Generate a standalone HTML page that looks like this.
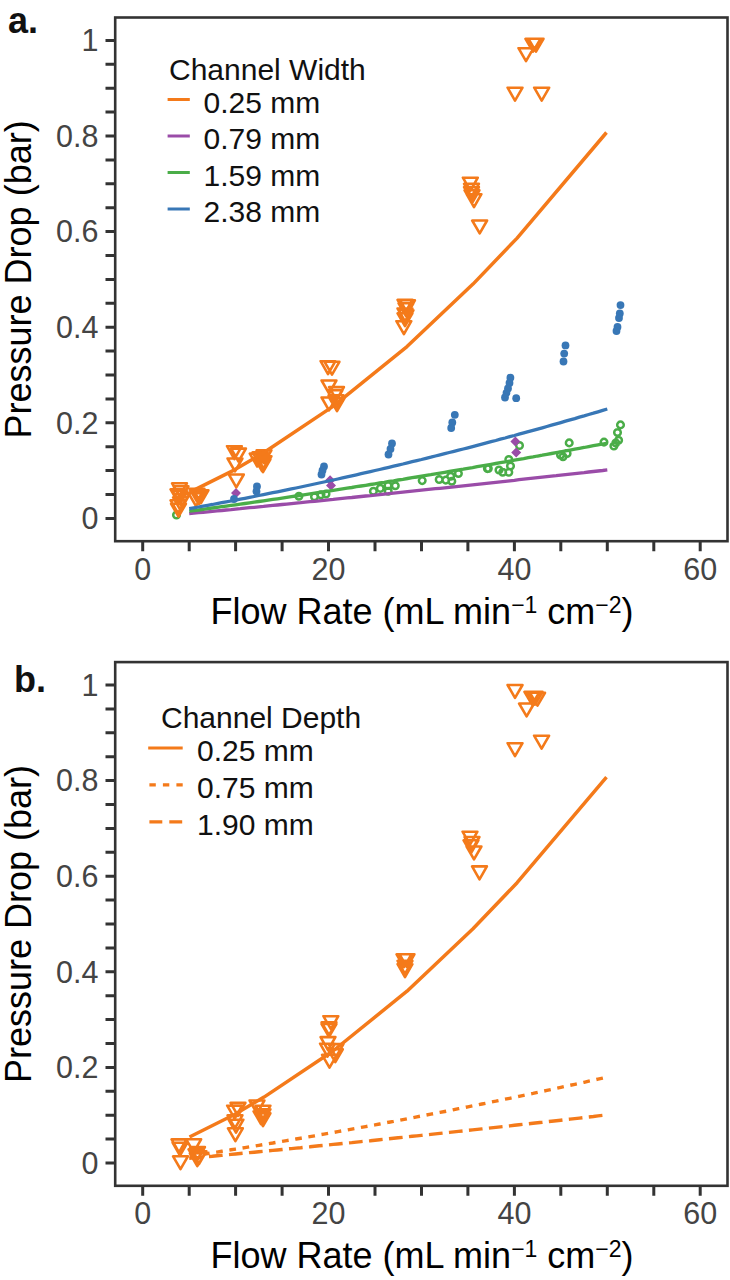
<!DOCTYPE html>
<html><head><meta charset="utf-8"><style>
html,body{margin:0;padding:0;background:#fff;width:730px;height:1280px;overflow:hidden}
svg{display:block;font-family:"Liberation Sans",sans-serif}
</style></head><body>
<svg width="730" height="1280" viewBox="0 0 730 1280">
<rect x="115.2" y="17.5" width="612.3" height="523.7" fill="none" stroke="#333333" stroke-width="2.6"/>
<path d="M105.5 518.4H115.2 M105.5 494.5H115.2 M105.5 470.6H115.2 M105.5 446.7H115.2 M105.5 422.8H115.2 M105.5 398.9H115.2 M105.5 375.0H115.2 M105.5 351.1H115.2 M105.5 327.2H115.2 M105.5 303.3H115.2 M105.5 279.4H115.2 M105.5 255.5H115.2 M105.5 231.6H115.2 M105.5 207.7H115.2 M105.5 183.8H115.2 M105.5 159.9H115.2 M105.5 136.0H115.2 M105.5 112.1H115.2 M105.5 88.2H115.2 M105.5 64.3H115.2 M105.5 40.4H115.2 M142.7 541.2V551.2 M189.2 541.2V551.2 M235.6 541.2V551.2 M282.1 541.2V551.2 M328.5 541.2V551.2 M375.0 541.2V551.2 M421.5 541.2V551.2 M467.9 541.2V551.2 M514.4 541.2V551.2 M560.8 541.2V551.2 M607.3 541.2V551.2 M653.8 541.2V551.2 M700.2 541.2V551.2" stroke="#333333" stroke-width="3" fill="none"/>
<text x="98.5" y="529.2" text-anchor="end" font-size="30.5" fill="#444444">0</text>
<text x="98.5" y="433.6" text-anchor="end" font-size="30.5" fill="#444444">0.2</text>
<text x="98.5" y="338.0" text-anchor="end" font-size="30.5" fill="#444444">0.4</text>
<text x="98.5" y="242.4" text-anchor="end" font-size="30.5" fill="#444444">0.6</text>
<text x="98.5" y="146.8" text-anchor="end" font-size="30.5" fill="#444444">0.8</text>
<text x="98.5" y="51.2" text-anchor="end" font-size="30.5" fill="#444444">1</text>
<text x="142.7" y="579.5" text-anchor="middle" font-size="30.5" fill="#444444">0</text>
<text x="328.5" y="579.5" text-anchor="middle" font-size="30.5" fill="#444444">20</text>
<text x="514.4" y="579.5" text-anchor="middle" font-size="30.5" fill="#444444">40</text>
<text x="700.2" y="579.5" text-anchor="middle" font-size="30.5" fill="#444444">60</text>
<text transform="translate(31 279.4) rotate(-90)" text-anchor="middle" font-size="36" fill="#000">Pressure Drop (bar)</text>
<text x="422" y="623.7" text-anchor="middle" font-size="36" fill="#000">Flow Rate (mL min<tspan font-size="23" dy="-11">−1</tspan><tspan dy="11"> cm</tspan><tspan font-size="23" dy="-11">−2</tspan><tspan dy="11">)</tspan></text>
<rect x="115.2" y="662.1" width="612.3" height="523.7" fill="none" stroke="#333333" stroke-width="2.6"/>
<path d="M105.5 1163.0H115.2 M105.5 1139.1H115.2 M105.5 1115.2H115.2 M105.5 1091.3H115.2 M105.5 1067.4H115.2 M105.5 1043.5H115.2 M105.5 1019.6H115.2 M105.5 995.7H115.2 M105.5 971.8H115.2 M105.5 947.9H115.2 M105.5 924.0H115.2 M105.5 900.1H115.2 M105.5 876.2H115.2 M105.5 852.3H115.2 M105.5 828.4H115.2 M105.5 804.5H115.2 M105.5 780.6H115.2 M105.5 756.7H115.2 M105.5 732.8H115.2 M105.5 708.9H115.2 M105.5 685.0H115.2 M142.7 1185.8000000000002V1195.8000000000002 M189.2 1185.8000000000002V1195.8000000000002 M235.6 1185.8000000000002V1195.8000000000002 M282.1 1185.8000000000002V1195.8000000000002 M328.5 1185.8000000000002V1195.8000000000002 M375.0 1185.8000000000002V1195.8000000000002 M421.5 1185.8000000000002V1195.8000000000002 M467.9 1185.8000000000002V1195.8000000000002 M514.4 1185.8000000000002V1195.8000000000002 M560.8 1185.8000000000002V1195.8000000000002 M607.3 1185.8000000000002V1195.8000000000002 M653.8 1185.8000000000002V1195.8000000000002 M700.2 1185.8000000000002V1195.8000000000002" stroke="#333333" stroke-width="3" fill="none"/>
<text x="98.5" y="1173.8" text-anchor="end" font-size="30.5" fill="#444444">0</text>
<text x="98.5" y="1078.2" text-anchor="end" font-size="30.5" fill="#444444">0.2</text>
<text x="98.5" y="982.6" text-anchor="end" font-size="30.5" fill="#444444">0.4</text>
<text x="98.5" y="887.0" text-anchor="end" font-size="30.5" fill="#444444">0.6</text>
<text x="98.5" y="791.4" text-anchor="end" font-size="30.5" fill="#444444">0.8</text>
<text x="98.5" y="695.8" text-anchor="end" font-size="30.5" fill="#444444">1</text>
<text x="142.7" y="1224.1" text-anchor="middle" font-size="30.5" fill="#444444">0</text>
<text x="328.5" y="1224.1" text-anchor="middle" font-size="30.5" fill="#444444">20</text>
<text x="514.4" y="1224.1" text-anchor="middle" font-size="30.5" fill="#444444">40</text>
<text x="700.2" y="1224.1" text-anchor="middle" font-size="30.5" fill="#444444">60</text>
<text transform="translate(31 924.0) rotate(-90)" text-anchor="middle" font-size="36" fill="#000">Pressure Drop (bar)</text>
<text x="422" y="1268.3" text-anchor="middle" font-size="36" fill="#000">Flow Rate (mL min<tspan font-size="23" dy="-11">−1</tspan><tspan dy="11"> cm</tspan><tspan font-size="23" dy="-11">−2</tspan><tspan dy="11">)</tspan></text>
<path d="M173.2 515.0a3.3 3.3 0 1 0 6.6 0a3.3 3.3 0 1 0 -6.6 0ZM295.6 496.3a3.3 3.3 0 1 0 6.6 0a3.3 3.3 0 1 0 -6.6 0ZM311.2 496.7a3.3 3.3 0 1 0 6.6 0a3.3 3.3 0 1 0 -6.6 0ZM317.7 494.7a3.3 3.3 0 1 0 6.6 0a3.3 3.3 0 1 0 -6.6 0ZM322.7 494.0a3.3 3.3 0 1 0 6.6 0a3.3 3.3 0 1 0 -6.6 0ZM370.1 491.2a3.3 3.3 0 1 0 6.6 0a3.3 3.3 0 1 0 -6.6 0ZM377.0 488.4a3.3 3.3 0 1 0 6.6 0a3.3 3.3 0 1 0 -6.6 0ZM384.7 485.5a3.3 3.3 0 1 0 6.6 0a3.3 3.3 0 1 0 -6.6 0ZM384.9 491.2a3.3 3.3 0 1 0 6.6 0a3.3 3.3 0 1 0 -6.6 0ZM392.0 485.8a3.3 3.3 0 1 0 6.6 0a3.3 3.3 0 1 0 -6.6 0ZM418.9 480.6a3.3 3.3 0 1 0 6.6 0a3.3 3.3 0 1 0 -6.6 0ZM435.9 479.5a3.3 3.3 0 1 0 6.6 0a3.3 3.3 0 1 0 -6.6 0ZM442.5 480.1a3.3 3.3 0 1 0 6.6 0a3.3 3.3 0 1 0 -6.6 0ZM447.4 476.2a3.3 3.3 0 1 0 6.6 0a3.3 3.3 0 1 0 -6.6 0ZM448.5 481.2a3.3 3.3 0 1 0 6.6 0a3.3 3.3 0 1 0 -6.6 0ZM455.1 473.5a3.3 3.3 0 1 0 6.6 0a3.3 3.3 0 1 0 -6.6 0ZM484.1 468.6a3.3 3.3 0 1 0 6.6 0a3.3 3.3 0 1 0 -6.6 0ZM495.7 470.0a3.3 3.3 0 1 0 6.6 0a3.3 3.3 0 1 0 -6.6 0ZM516.2 445.5a3.3 3.3 0 1 0 6.6 0a3.3 3.3 0 1 0 -6.6 0ZM505.5 459.5a3.3 3.3 0 1 0 6.6 0a3.3 3.3 0 1 0 -6.6 0ZM507.2 466.0a3.3 3.3 0 1 0 6.6 0a3.3 3.3 0 1 0 -6.6 0ZM499.4 472.2a3.3 3.3 0 1 0 6.6 0a3.3 3.3 0 1 0 -6.6 0ZM505.5 472.2a3.3 3.3 0 1 0 6.6 0a3.3 3.3 0 1 0 -6.6 0ZM485.0 468.5a3.3 3.3 0 1 0 6.6 0a3.3 3.3 0 1 0 -6.6 0ZM565.9 442.9a3.3 3.3 0 1 0 6.6 0a3.3 3.3 0 1 0 -6.6 0ZM559.7 456.8a3.3 3.3 0 1 0 6.6 0a3.3 3.3 0 1 0 -6.6 0ZM563.8 453.5a3.3 3.3 0 1 0 6.6 0a3.3 3.3 0 1 0 -6.6 0ZM557.2 455.0a3.3 3.3 0 1 0 6.6 0a3.3 3.3 0 1 0 -6.6 0ZM617.2 424.9a3.3 3.3 0 1 0 6.6 0a3.3 3.3 0 1 0 -6.6 0ZM614.2 432.5a3.3 3.3 0 1 0 6.6 0a3.3 3.3 0 1 0 -6.6 0ZM615.3 440.2a3.3 3.3 0 1 0 6.6 0a3.3 3.3 0 1 0 -6.6 0ZM612.5 443.0a3.3 3.3 0 1 0 6.6 0a3.3 3.3 0 1 0 -6.6 0ZM610.6 446.0a3.3 3.3 0 1 0 6.6 0a3.3 3.3 0 1 0 -6.6 0ZM600.7 442.1a3.3 3.3 0 1 0 6.6 0a3.3 3.3 0 1 0 -6.6 0Z" fill="none" stroke="#4aad48" stroke-width="2.5"/>
<path d="M236.0 488.0L241.0 493.0L236.0 498.0L231.0 493.0ZM330.1 475.3L335.1 480.3L330.1 485.3L325.1 480.3ZM331.0 480.6L336.0 485.6L331.0 490.6L326.0 485.6ZM515.4 436.4L520.4 441.4L515.4 446.4L510.4 441.4ZM516.2 447.5L521.2 452.5L516.2 457.5L511.2 452.5Z" fill="#9a4ca8"/>
<g fill="#3877b6"><circle cx="234" cy="499" r="3.9"/><circle cx="257" cy="486.4" r="3.9"/><circle cx="256.5" cy="491.4" r="3.9"/><circle cx="324" cy="466.5" r="3.9"/><circle cx="322.5" cy="470.5" r="3.9"/><circle cx="321.5" cy="474.5" r="3.9"/><circle cx="392" cy="443.5" r="3.9"/><circle cx="390.5" cy="449" r="3.9"/><circle cx="388.5" cy="454.5" r="3.9"/><circle cx="454.8" cy="414.8" r="3.9"/><circle cx="452.3" cy="422.5" r="3.9"/><circle cx="451.2" cy="428" r="3.9"/><circle cx="510.4" cy="377.7" r="3.9"/><circle cx="509.5" cy="383" r="3.9"/><circle cx="508" cy="388.5" r="3.9"/><circle cx="506.5" cy="393" r="3.9"/><circle cx="505" cy="397.5" r="3.9"/><circle cx="516.2" cy="398.2" r="3.9"/><circle cx="565.5" cy="345.4" r="3.9"/><circle cx="564.2" cy="353.6" r="3.9"/><circle cx="563.5" cy="361.5" r="3.9"/><circle cx="620.5" cy="305.1" r="3.9"/><circle cx="619.8" cy="313.5" r="3.9"/><circle cx="619" cy="318" r="3.9"/><circle cx="617.5" cy="327" r="3.9"/><circle cx="616.5" cy="331" r="3.9"/></g>
<path d="M172.1 483.3H186.9L179.5 496.2ZM173.6 486.3H188.4L181.0 499.2ZM170.6 489.3H185.4L178.0 502.2ZM172.6 491.3H187.4L180.0 504.2ZM174.6 494.3H189.4L182.0 507.2ZM173.1 497.3H187.9L180.5 510.2ZM170.6 500.3H185.4L178.0 513.2ZM171.1 503.8H185.9L178.5 516.7ZM189.6 488.8H204.4L197.0 501.7ZM191.6 491.3H206.4L199.0 504.2ZM188.6 493.3H203.4L196.0 506.2ZM193.6 490.3H208.4L201.0 503.2ZM227.0 446.2H241.8L234.4 459.1ZM231.1 448.6H245.9L238.5 461.5ZM227.6 458.5H242.4L235.0 471.4ZM228.9 474.5H243.8L236.3 487.4ZM256.6 450.3H271.4L264.0 463.2ZM249.8 453.6H264.6L257.2 466.5ZM252.6 452.3H267.4L260.0 465.2ZM256.6 456.3H271.4L264.0 469.2ZM254.6 458.3H269.4L262.0 471.2ZM255.6 459.3H270.4L263.0 472.2ZM320.6 361.2H335.4L328.0 374.1ZM324.6 361.8H339.4L332.0 374.7ZM321.6 380.5H336.4L329.0 393.4ZM329.1 387.1H343.9L336.5 400.0ZM327.6 390.3H342.4L335.0 403.2ZM321.6 397.5H336.4L329.0 410.4ZM329.6 398.3H344.4L337.0 411.2ZM328.6 395.3H343.4L336.0 408.2ZM397.6 299.9H412.4L405.0 312.8ZM400.1 300.3H414.9L407.5 313.2ZM398.6 303.3H413.4L406.0 316.2ZM397.6 308.5H412.4L405.0 321.4ZM398.6 310.3H413.4L406.0 323.2ZM397.6 313.3H412.4L405.0 326.2ZM396.4 321.2H411.3L403.9 334.1ZM462.9 177.7H477.8L470.4 190.6ZM464.1 183.8H478.9L471.5 196.7ZM464.1 187.1H478.9L471.5 200.0ZM464.6 190.3H479.4L472.0 203.2ZM466.6 194.2H481.4L474.0 207.1ZM472.2 220.5H487.1L479.7 233.4ZM518.5 48.2H533.5L526.0 61.1ZM525.5 38.8H540.5L533.0 51.7ZM528.5 38.8H543.5L536.0 51.7ZM507.6 87.7H522.5L515.0 100.6ZM534.2 87.7H549.2L541.7 100.6Z" fill="none" stroke="#f47a1a" stroke-width="2.6" stroke-linejoin="round"/>
<path d="M189.2,513.6 L193.8,513.2 L198.5,512.7 L203.1,512.3 L207.7,511.8 L212.4,511.4 L217.0,510.9 L221.7,510.5 L226.3,510.0 L231.0,509.6 L235.6,509.1 L240.3,508.7 L244.9,508.2 L249.6,507.7 L254.2,507.3 L258.8,506.8 L263.5,506.4 L268.1,505.9 L272.8,505.4 L277.4,505.0 L282.1,504.5 L286.7,504.1 L291.4,503.6 L296.0,503.1 L300.7,502.7 L305.3,502.2 L310.0,501.7 L314.6,501.3 L319.2,500.8 L323.9,500.3 L328.5,499.8 L333.2,499.4 L337.8,498.9 L342.5,498.4 L347.1,497.9 L351.8,497.5 L356.4,497.0 L361.1,496.5 L365.7,496.0 L370.4,495.6 L375.0,495.1 L379.6,494.6 L384.3,494.1 L388.9,493.6 L393.6,493.1 L398.2,492.7 L402.9,492.2 L407.5,491.7 L412.2,491.2 L416.8,490.7 L421.5,490.2 L426.1,489.7 L430.8,489.2 L435.4,488.7 L440.0,488.3 L444.7,487.8 L449.3,487.3 L454.0,486.8 L458.6,486.3 L463.3,485.8 L467.9,485.3 L472.6,484.8 L477.2,484.3 L481.9,483.8 L486.5,483.3 L491.1,482.8 L495.8,482.3 L500.4,481.8 L505.1,481.3 L509.7,480.8 L514.4,480.3 L519.0,479.7 L523.7,479.2 L528.3,478.7 L533.0,478.2 L537.6,477.7 L542.3,477.2 L546.9,476.7 L551.5,476.2 L556.2,475.7 L560.8,475.1 L565.5,474.6 L570.1,474.1 L574.8,473.6 L579.4,473.1 L584.1,472.6 L588.7,472.0 L593.4,471.5 L598.0,471.0 L602.7,470.5 L607.3,469.9" fill="none" stroke="#9a4ca8" stroke-width="3.3"/>
<path d="M189.2,511.2 L193.8,510.6 L198.5,510.0 L203.1,509.3 L207.7,508.7 L212.4,508.0 L217.0,507.4 L221.7,506.7 L226.3,506.1 L231.0,505.4 L235.6,504.8 L240.3,504.1 L244.9,503.5 L249.6,502.8 L254.2,502.1 L258.8,501.5 L263.5,500.8 L268.1,500.1 L272.8,499.4 L277.4,498.8 L282.1,498.1 L286.7,497.4 L291.4,496.7 L296.0,496.0 L300.7,495.3 L305.3,494.6 L310.0,493.9 L314.6,493.2 L319.2,492.5 L323.9,491.8 L328.5,491.1 L333.2,490.3 L337.8,489.6 L342.5,488.9 L347.1,488.2 L351.8,487.5 L356.4,486.7 L361.1,486.0 L365.7,485.3 L370.4,484.5 L375.0,483.8 L379.6,483.0 L384.3,482.3 L388.9,481.5 L393.6,480.8 L398.2,480.0 L402.9,479.3 L407.5,478.5 L412.2,477.7 L416.8,477.0 L421.5,476.2 L426.1,475.4 L430.8,474.7 L435.4,473.9 L440.0,473.1 L444.7,472.3 L449.3,471.5 L454.0,470.7 L458.6,469.9 L463.3,469.2 L467.9,468.4 L472.6,467.6 L477.2,466.7 L481.9,465.9 L486.5,465.1 L491.1,464.3 L495.8,463.5 L500.4,462.7 L505.1,461.9 L509.7,461.0 L514.4,460.2 L519.0,459.4 L523.7,458.6 L528.3,457.7 L533.0,456.9 L537.6,456.0 L542.3,455.2 L546.9,454.3 L551.5,453.5 L556.2,452.6 L560.8,451.8 L565.5,450.9 L570.1,450.1 L574.8,449.2 L579.4,448.3 L584.1,447.5 L588.7,446.6 L593.4,445.7 L598.0,444.8 L602.7,444.0 L607.3,443.1" fill="none" stroke="#4aad48" stroke-width="3.3"/>
<path d="M189.2,508.7 L193.8,507.9 L198.5,507.0 L203.1,506.2 L207.7,505.3 L212.4,504.5 L217.0,503.6 L221.7,502.7 L226.3,501.9 L231.0,501.0 L235.6,500.1 L240.3,499.2 L244.9,498.3 L249.6,497.4 L254.2,496.5 L258.8,495.5 L263.5,494.6 L268.1,493.7 L272.8,492.7 L277.4,491.8 L282.1,490.8 L286.7,489.9 L291.4,488.9 L296.0,488.0 L300.7,487.0 L305.3,486.0 L310.0,485.0 L314.6,484.0 L319.2,483.0 L323.9,482.0 L328.5,481.0 L333.2,480.0 L337.8,479.0 L342.5,477.9 L347.1,476.9 L351.8,475.8 L356.4,474.8 L361.1,473.7 L365.7,472.7 L370.4,471.6 L375.0,470.5 L379.6,469.5 L384.3,468.4 L388.9,467.3 L393.6,466.2 L398.2,465.1 L402.9,464.0 L407.5,462.8 L412.2,461.7 L416.8,460.6 L421.5,459.5 L426.1,458.3 L430.8,457.2 L435.4,456.0 L440.0,454.9 L444.7,453.7 L449.3,452.5 L454.0,451.3 L458.6,450.2 L463.3,449.0 L467.9,447.8 L472.6,446.6 L477.2,445.4 L481.9,444.1 L486.5,442.9 L491.1,441.7 L495.8,440.5 L500.4,439.2 L505.1,438.0 L509.7,436.7 L514.4,435.5 L519.0,434.2 L523.7,432.9 L528.3,431.7 L533.0,430.4 L537.6,429.1 L542.3,427.8 L546.9,426.5 L551.5,425.2 L556.2,423.9 L560.8,422.6 L565.5,421.2 L570.1,419.9 L574.8,418.6 L579.4,417.2 L584.1,415.9 L588.7,414.5 L593.4,413.2 L598.0,411.8 L602.7,410.4 L607.3,409.0" fill="none" stroke="#3877b6" stroke-width="3.3"/>
<path d="M189.5,492.4 L235.0,469.6 L264.0,452.5 L333.0,406.4 L407.0,346.6 L473.0,284.1 L517.1,238.1 L606.5,132.5" fill="none" stroke="#f47a1a" stroke-width="3.5" stroke-linejoin="round"/>
<path d="M189.2,1158.3 L193.8,1157.9 L198.5,1157.5 L203.1,1157.0 L207.7,1156.6 L212.4,1156.2 L217.0,1155.7 L221.7,1155.3 L226.3,1154.8 L231.0,1154.4 L235.6,1154.0 L240.3,1153.5 L244.9,1153.1 L249.6,1152.6 L254.2,1152.2 L258.8,1151.7 L263.5,1151.3 L268.1,1150.9 L272.8,1150.4 L277.4,1150.0 L282.1,1149.5 L286.7,1149.0 L291.4,1148.6 L296.0,1148.1 L300.7,1147.7 L305.3,1147.2 L310.0,1146.8 L314.6,1146.3 L319.2,1145.8 L323.9,1145.4 L328.5,1144.9 L333.2,1144.4 L337.8,1144.0 L342.5,1143.5 L347.1,1143.0 L351.8,1142.6 L356.4,1142.1 L361.1,1141.6 L365.7,1141.1 L370.4,1140.7 L375.0,1140.2 L379.6,1139.7 L384.3,1139.2 L388.9,1138.8 L393.6,1138.3 L398.2,1137.8 L402.9,1137.3 L407.5,1136.8 L412.2,1136.3 L416.8,1135.9 L421.5,1135.4 L426.1,1134.9 L430.8,1134.4 L435.4,1133.9 L440.0,1133.4 L444.7,1132.9 L449.3,1132.4 L454.0,1131.9 L458.6,1131.4 L463.3,1130.9 L467.9,1130.4 L472.6,1129.9 L477.2,1129.4 L481.9,1128.9 L486.5,1128.4 L491.1,1127.9 L495.8,1127.4 L500.4,1126.9 L505.1,1126.4 L509.7,1125.9 L514.4,1125.3 L519.0,1124.8 L523.7,1124.3 L528.3,1123.8 L533.0,1123.3 L537.6,1122.8 L542.3,1122.3 L546.9,1121.7 L551.5,1121.2 L556.2,1120.7 L560.8,1120.2 L565.5,1119.6 L570.1,1119.1 L574.8,1118.6 L579.4,1118.1 L584.1,1117.5 L588.7,1117.0 L593.4,1116.5 L598.0,1115.9 L602.7,1115.4 L607.3,1114.9" fill="none" stroke="#f47a1a" stroke-width="3.4" stroke-dasharray="13.7 6.4" stroke-dashoffset="0.25"/>
<path d="M189.2,1156.4 L193.8,1155.7 L198.5,1155.0 L203.1,1154.3 L207.7,1153.5 L212.4,1152.8 L217.0,1152.1 L221.7,1151.3 L226.3,1150.6 L231.0,1149.8 L235.6,1149.1 L240.3,1148.3 L244.9,1147.6 L249.6,1146.8 L254.2,1146.1 L258.8,1145.3 L263.5,1144.5 L268.1,1143.7 L272.8,1143.0 L277.4,1142.2 L282.1,1141.4 L286.7,1140.6 L291.4,1139.8 L296.0,1139.0 L300.7,1138.2 L305.3,1137.4 L310.0,1136.6 L314.6,1135.8 L319.2,1134.9 L323.9,1134.1 L328.5,1133.3 L333.2,1132.5 L337.8,1131.6 L342.5,1130.8 L347.1,1130.0 L351.8,1129.1 L356.4,1128.3 L361.1,1127.4 L365.7,1126.6 L370.4,1125.7 L375.0,1124.9 L379.6,1124.0 L384.3,1123.1 L388.9,1122.2 L393.6,1121.4 L398.2,1120.5 L402.9,1119.6 L407.5,1118.7 L412.2,1117.8 L416.8,1116.9 L421.5,1116.0 L426.1,1115.1 L430.8,1114.2 L435.4,1113.3 L440.0,1112.4 L444.7,1111.5 L449.3,1110.6 L454.0,1109.6 L458.6,1108.7 L463.3,1107.8 L467.9,1106.8 L472.6,1105.9 L477.2,1105.0 L481.9,1104.0 L486.5,1103.1 L491.1,1102.1 L495.8,1101.2 L500.4,1100.2 L505.1,1099.2 L509.7,1098.3 L514.4,1097.3 L519.0,1096.3 L523.7,1095.3 L528.3,1094.3 L533.0,1093.4 L537.6,1092.4 L542.3,1091.4 L546.9,1090.4 L551.5,1089.4 L556.2,1088.4 L560.8,1087.4 L565.5,1086.3 L570.1,1085.3 L574.8,1084.3 L579.4,1083.3 L584.1,1082.3 L588.7,1081.2 L593.4,1080.2 L598.0,1079.1 L602.7,1078.1 L607.3,1077.1" fill="none" stroke="#f47a1a" stroke-width="3.4" stroke-dasharray="6.7 6.65" stroke-dashoffset="-0.6"/>
<path d="M189.5,1137.0 L235.0,1114.2 L264.0,1097.1 L333.0,1051.0 L407.0,991.2 L473.0,928.7 L517.1,882.7 L606.5,777.1" fill="none" stroke="#f47a1a" stroke-width="3.5" stroke-linejoin="round"/>
<path d="M171.6 1139.4H186.4L179.0 1152.3ZM172.6 1142.7H187.4L180.0 1155.6ZM173.1 1156.3H187.9L180.5 1169.2ZM186.2 1139.3H201.1L193.7 1152.2ZM190.1 1147.1H204.9L197.5 1160.0ZM189.9 1153.3H204.8L197.3 1166.2ZM191.6 1151.3H206.4L199.0 1164.2ZM188.6 1149.3H203.4L196.0 1162.2ZM230.6 1102.9H245.4L238.0 1115.8ZM227.2 1105.7H242.1L234.7 1118.6ZM227.6 1115.3H242.4L235.0 1128.2ZM228.6 1119.7H243.4L236.0 1132.6ZM228.0 1128.3H242.8L235.4 1141.2ZM249.6 1100.5H264.4L257.0 1113.4ZM255.6 1105.7H270.4L263.0 1118.6ZM255.6 1109.3H270.4L263.0 1122.2ZM255.6 1113.3H270.4L263.0 1126.2ZM253.6 1111.3H268.4L261.0 1124.2ZM323.4 1016.2H338.3L330.9 1029.1ZM321.6 1022.3H336.4L329.0 1035.2ZM321.6 1024.0H336.4L329.0 1036.9ZM320.6 1037.1H335.4L328.0 1050.0ZM320.1 1043.7H334.9L327.5 1056.6ZM328.6 1044.1H343.4L336.0 1057.0ZM327.9 1049.3H342.8L335.3 1062.2ZM322.1 1054.8H336.9L329.5 1067.7ZM396.6 954.3H411.4L404.0 967.2ZM399.6 954.3H414.4L407.0 967.2ZM397.6 960.9H412.4L405.0 973.8ZM397.6 964.2H412.4L405.0 977.1ZM462.6 831.7H477.4L470.0 844.6ZM464.6 837.0H479.4L472.0 849.9ZM463.6 840.3H478.4L471.0 853.2ZM466.6 846.5H481.4L474.0 859.4ZM472.1 866.4H486.9L479.5 879.3ZM507.6 685.0H522.5L515.0 697.9ZM524.5 691.8H539.5L532.0 704.7ZM527.5 691.8H542.5L535.0 704.7ZM530.0 692.8H545.0L537.5 705.7ZM519.1 703.5H534.1L526.6 716.4ZM507.6 743.2H522.5L515.0 756.1ZM534.1 735.7H549.1L541.6 748.6Z" fill="none" stroke="#f47a1a" stroke-width="2.6" stroke-linejoin="round"/>
<text x="8" y="33" font-size="36" font-weight="bold" fill="#111">a.</text>
<text x="14" y="691.5" font-size="36" font-weight="bold" fill="#111">b.</text>
<text x="169" y="79.5" font-size="30" fill="#111">Channel Width</text>
<path d="M167.6 99.5H189.8" stroke="#f47a1a" stroke-width="3"/>
<text x="203.5" y="112.5" font-size="30" fill="#111">0.25 mm</text>
<path d="M167.6 136.0H189.8" stroke="#9a4ca8" stroke-width="3"/>
<text x="203.5" y="149.0" font-size="30" fill="#111">0.79 mm</text>
<path d="M167.6 172.5H189.8" stroke="#4aad48" stroke-width="3"/>
<text x="203.5" y="185.5" font-size="30" fill="#111">1.59 mm</text>
<path d="M167.6 209.0H189.8" stroke="#3877b6" stroke-width="3"/>
<text x="203.5" y="222.0" font-size="30" fill="#111">2.38 mm</text>
<text x="161" y="727.5" font-size="30" fill="#111">Channel Depth</text>
<path d="M148.2 748.0H182.7" stroke="#f47a1a" stroke-width="3.2"/>
<text x="197" y="761.0" font-size="30" fill="#111">0.25 mm</text>
<path d="M149.4 784.9H182.7" stroke="#f47a1a" stroke-width="3.2" stroke-dasharray="6.4 7.1"/>
<text x="197" y="797.9" font-size="30" fill="#111">0.75 mm</text>
<path d="M149.4 821.8H182.7" stroke="#f47a1a" stroke-width="3.2" stroke-dasharray="12.9 7"/>
<text x="197" y="834.8" font-size="30" fill="#111">1.90 mm</text>
</svg>
</body></html>
